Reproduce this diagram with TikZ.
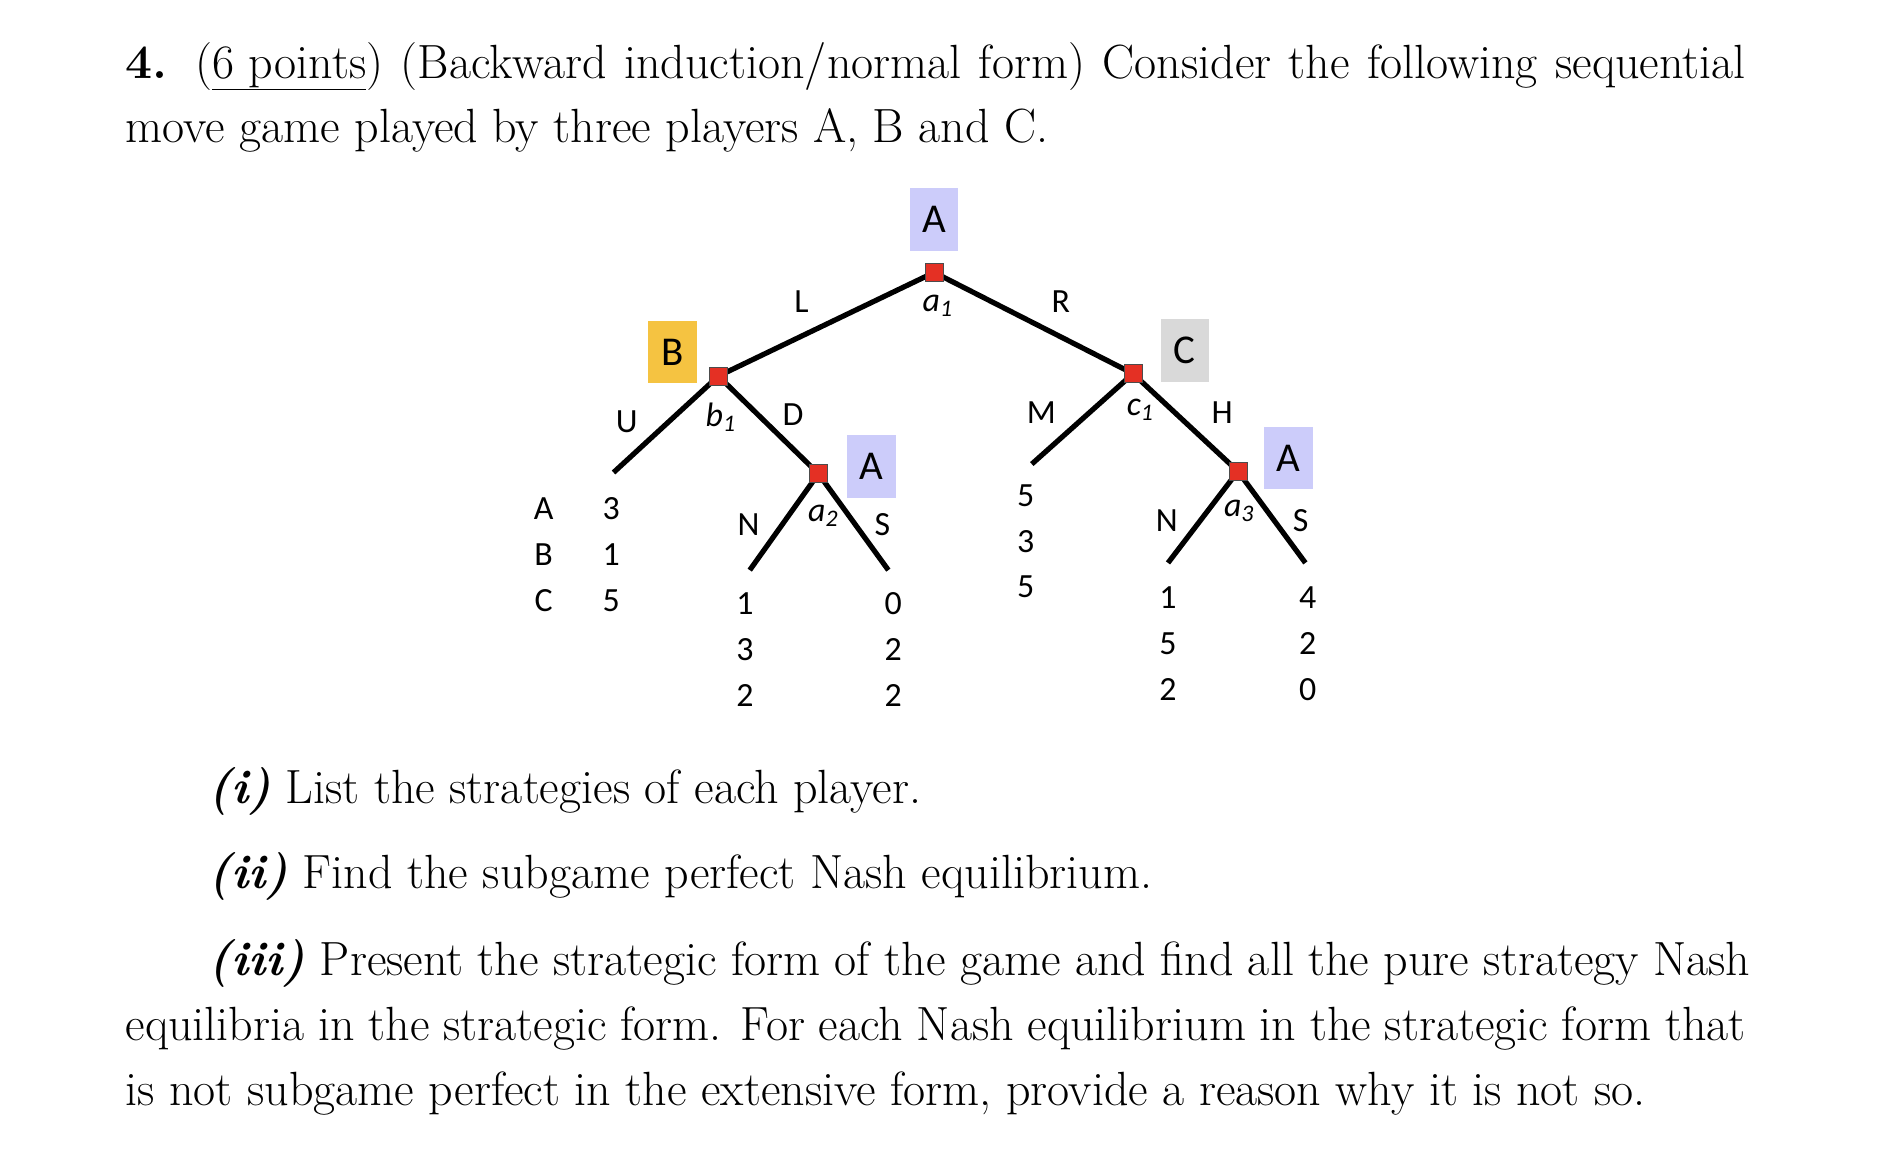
\documentclass[tikz,border=0pt]{standalone}
\usepackage{fontspec}
\newfontfamily\tf{Carlito}
\definecolor{lav}{RGB}{204,204,250}
\definecolor{org}{RGB}{245,195,65}
\definecolor{gry}{RGB}{217,217,217}
\definecolor{nred}{RGB}{228,48,36}
\begin{document}
\begin{tikzpicture}[x=0.3mm,y=-0.3mm,
  dec/.style={draw=black!70,fill=nred,minimum size=4.5mm,inner sep=0pt,line width=0.4pt},
  pl/.style={minimum width=12mm,minimum height=15.6mm,inner sep=0pt,font=\tf\fontsize{29}{30}\selectfont},
  lb/.style={font=\tf\fontsize{24}{28}\selectfont,inner sep=0pt},
  br/.style={line width=1.3mm},
  body/.style={anchor=base west,inner sep=0pt,font=\fontsize{34}{40}\selectfont}]
\useasboundingbox (0,0) rectangle (1568,961);
% text
\node[body] (t1) at (104,65) {\makebox[403.2mm][s]{\textbf{4.} (\underline{6 points}) (Backward induction/normal form) Consider the following sequential}};
\node[body] (t2) at (104,118) {move game played by three players A, B and C.};
\node[body] (q1) at (173,667) {\textbf{\textit{(i)}} List the strategies of each player.};
\node[body] (q2) at (173,737) {\textbf{\textit{(ii)}} Find the subgame perfect Nash equilibrium.};
\node[body] (q3) at (173,809) {\makebox[383.7mm][s]{\textbf{\textit{(iii)}} Present the strategic form of the game and find all the pure strategy Nash}};
\node[body] (q4) at (104,863) {\makebox[403.2mm][s]{equilibria in the strategic form. For each Nash equilibrium in the strategic form that}};
\node[body] (q5) at (104,917) {is not subgame perfect in the extensive form, provide a reason why it is not so.};
% players
\node[pl,fill=lav] (pA1) at (775,182) {A};
\node[pl,fill=org] (pB) at (558,292) {B};
\node[pl,fill=gry] (pC) at (983,291) {C};
\node[pl,fill=lav] (pA2) at (723,387) {A};
\node[pl,fill=lav] (pA3) at (1069,380) {A};
% leaves
\coordinate (u) at (509,392);
\coordinate (n2) at (622,473);
\coordinate (s2) at (737,473);
\coordinate (m) at (856,385);
\coordinate (n3) at (969,467);
\coordinate (s3) at (1083,467);
\coordinate (a1c) at (775,226);
\coordinate (b1c) at (596,312);
\coordinate (c1c) at (940,310);
\coordinate (a2c) at (679,393);
\coordinate (a3c) at (1027,391);
\draw[br] (a1c) -- (b1c); \draw[br] (a1c) -- (c1c);
\draw[br] (b1c) -- (u); \draw[br] (b1c) -- (a2c);
\draw[br] (a2c) -- (n2); \draw[br] (a2c) -- (s2);
\draw[br] (c1c) -- (m); \draw[br] (c1c) -- (a3c);
\draw[br] (a3c) -- (n3); \draw[br] (a3c) -- (s3);
\node[dec] (a1) at (a1c) {};
\node[dec] (b1) at (b1c) {};
\node[dec] (c1) at (c1c) {};
\node[dec] (a2) at (a2c) {};
\node[dec] (a3) at (a3c) {};
% labels
\node[lb] (lL) at (665,250) {L};
\node[lb] (lR) at (880,250) {R};
\node[lb] (la1) at (778,254) {\textit{a\textsubscript{1}}};
\node[lb] (lU) at (520,350) {U};
\node[lb] (lb1) at (598,346) {\textit{b\textsubscript{1}}};
\node[lb] (lD) at (658,344) {D};
\node[lb] (lM) at (864,342) {M};
\node[lb] (lc1) at (946,340) {\textit{c\textsubscript{1}}};
\node[lb] (lH) at (1014,342) {H};
\node[lb] (lN2) at (621,435) {N};
\node[lb] (la2) at (683,428) {\textit{a\textsubscript{2}}};
\node[lb] (lS2) at (732,435) {S};
\node[lb] (lN3) at (968,432) {N};
\node[lb] (la3) at (1028,424) {\textit{a\textsubscript{3}}};
\node[lb] (lS3) at (1079,432) {S};
% payoffs
\foreach \x/\a/\b/\c/\y/\nm in {451/A/B/C/422/pk,507/3/1/5/422/pu,618/1/3/2/501/pn2,741/0/2/2/501/ps2,851/5/3/5/411/pm,969/1/5/2/496/pn3,1085/4/2/0/496/ps3}{
  \node[lb] (\nm a) at (\x,\y) {\a};
  \node[lb] (\nm b) at (\x,\y+38) {\b};
  \node[lb] (\nm c) at (\x,\y+76) {\c};
}
\end{tikzpicture}
\end{document}
